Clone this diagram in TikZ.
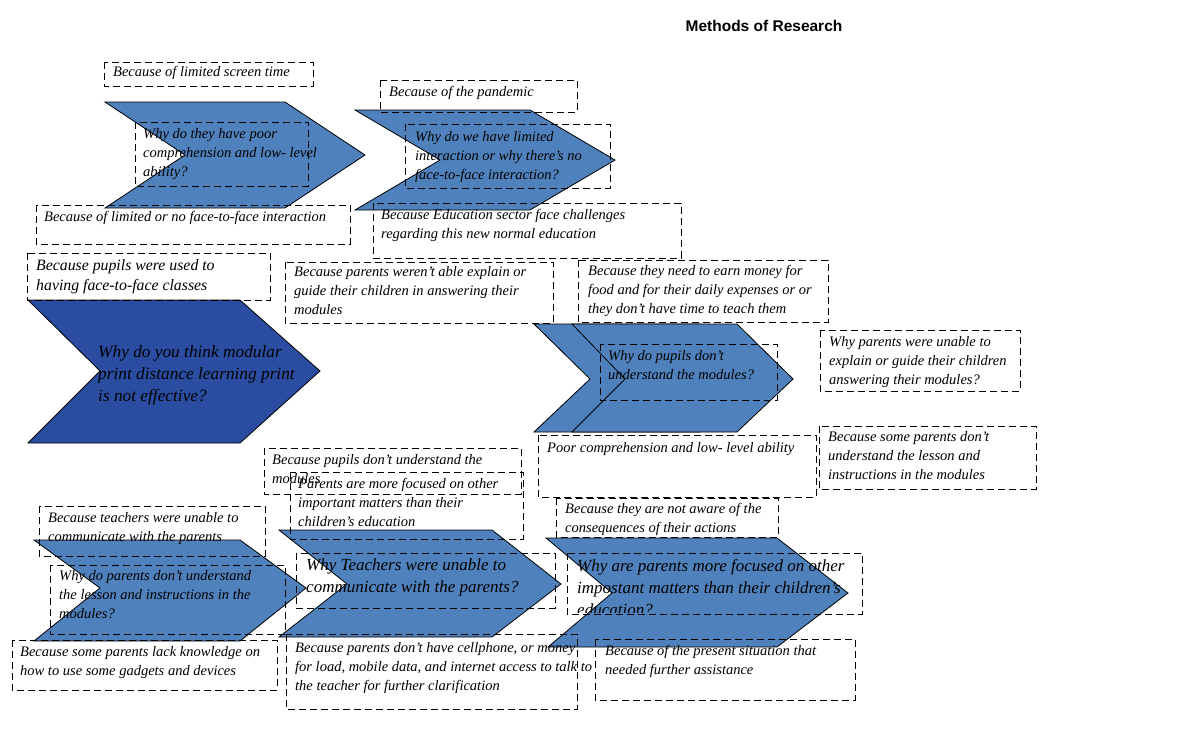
\documentclass[tikz,border=0pt]{standalone}
\usepackage{fontspec}
\setmainfont{Liberation Serif}
\newfontfamily\sans{Liberation Sans}
\begin{document}
\begin{tikzpicture}[x=1pt,y=-1pt,
  chev/.style={draw=black,line width=0.8pt,fill=cblue},
  dbox/.style={draw=black,dashed,dash pattern=on 7pt off 4pt,line width=1pt},
  txt/.style={anchor=north west,inner sep=0pt,align=left,font=\fontsize{14.5}{19}\selectfont\itshape},
  big/.style={anchor=north west,inner sep=0pt,align=left,font=\fontsize{17}{22}\selectfont\itshape}]
\definecolor{cblue}{HTML}{4F81BD}
\definecolor{dblue}{HTML}{2A4DA2}
\useasboundingbox (0,0) rectangle (1200,729);
\node[font=\sans\bfseries\fontsize{15.5}{17}\selectfont] (title) at (764,26) {Methods of Research};
% chevrons
\draw[chev] (105,102)--(285,102)--(365,155)--(285,208)--(105,208)--(185,155)--cycle;
\draw[chev] (355,110)--(530,110)--(615,160)--(530,210)--(355,210)--(440,160)--cycle;
\draw[chev,fill=dblue] (28,300)--(240,300)--(320,371)--(240,443)--(28,443)--(100,371)--cycle;
\draw[chev] (534,324)--(700,324)--(756,379)--(700,432)--(534,432)--(590,379)--cycle;
\draw[chev] (572,324)--(737,324)--(793,379)--(737,432)--(572,432)--(625,379)--cycle;
\draw[chev] (34,540)--(240,540)--(306,588)--(240,641)--(34,641)--(100,588)--cycle;
\draw[chev] (279,530)--(492,530)--(561,584)--(492,637)--(279,637)--(347,584)--cycle;
\draw[chev] (546,538)--(777,538)--(848,593)--(777,647)--(548,647)--(612,593)--cycle;
% boxes
\draw[dbox] (104,62) rectangle (313,86);
\node[txt] (t1) at (113,66) {Because of limited screen time};
\draw[dbox] (380,80) rectangle (577,112);
\node[txt] (t2) at (389,86) {Because of the pandemic};
\draw[dbox] (135,122) rectangle (308,186);
\node[txt] (t3) at (143,128) {Why do they have poor\\comprehension and low- level\\ability?};
\draw[dbox] (405,124) rectangle (610,188);
\node[txt] (t4) at (415,131) {Why do we have limited\\interaction or why there's no\\face-to-face interaction?};
\draw[dbox] (36,205) rectangle (350,244);
\node[txt] (t5) at (44,211) {Because of limited or no face-to-face interaction};
\draw[dbox] (373,203) rectangle (681,258);
\node[txt] (t6) at (381,209) {Because Education sector face challenges\\regarding this new normal education};
\draw[dbox] (27,253) rectangle (270,300);
\node[txt,font=\fontsize{15.8}{20}\selectfont\itshape] (t7) at (36,259) {Because pupils were used to\\having face-to-face classes};
\draw[dbox] (285,262) rectangle (553,323);
\node[txt] (t8) at (294,266) {Because parents weren't able explain or\\guide their children in answering their\\modules};
\draw[dbox] (578,260) rectangle (828,322);
\node[txt] (t9) at (588,265) {Because they need to earn money for\\food and for their daily expenses or or\\they don't have time to teach them};
\node[anchor=north west,inner sep=0pt,align=left,font=\fontsize{17.3}{22}\selectfont\itshape] (t10) at (98,345) {Why do you think modular\\print distance learning print\\is not effective?};
\draw[dbox] (600,344) rectangle (777,400);
\node[txt] (t11) at (608,350) {Why do pupils don't\\understand the modules?};
\draw[dbox] (820,330) rectangle (1020,391);
\node[txt] (t12) at (829,336) {Why parents were unable to\\explain or guide their children\\answering their modules?};
\draw[dbox] (538,435) rectangle (816,497);
\node[txt] (t13) at (547,442) {Poor comprehension and low- level ability};
\draw[dbox] (819,426) rectangle (1036,489);
\node[txt] (t14) at (828,431) {Because some parents don't\\understand the lesson and\\instructions in the modules};
\draw[dbox] (264,448) rectangle (521,494);
\node[txt] (t15) at (272,454) {Because pupils don't understand the\\modules};
\draw[dbox] (290,472) rectangle (523,539);
\node[txt] (t16) at (298,478) {Parents are more focused on other\\important matters than their\\children's education};
\draw[dbox] (39,506) rectangle (265,556);
\node[txt] (t17) at (48,512) {Because teachers were unable to\\communicate with the parents};
\draw[dbox] (50,565) rectangle (285,634);
\node[txt] (t18) at (59,570) {Why do parents don't understand\\the lesson and instructions in the\\modules?};
\draw[dbox] (296,553) rectangle (555,608);
\node[big] (t19) at (306,558) {Why Teachers were unable to\\communicate with the parents?};
\draw[dbox] (556,498) rectangle (778,537);
\node[txt] (t20) at (565,503) {Because they are not aware of the\\consequences of their actions};
\begin{scope}
\clip (560,550) rectangle (870,612);
\node[big] (t21) at (577,559) {Why are parents more focused on other\\impostant matters than their children's\\education?};
\end{scope}
\draw[dbox] (567,553) rectangle (862,614);
\draw[dbox] (12,640) rectangle (277,690);
\node[txt] (t22) at (20,646) {Because some parents lack knowledge on\\how to use some gadgets and devices};
\draw[dbox] (286,634) rectangle (577,709);
\node[txt] (t23) at (295,642) {Because parents don't have cellphone, or money\\for load, mobile data, and internet access to talk to\\the teacher for further clarification};
\draw[dbox] (595,639) rectangle (855,700);
\node[txt] (t24) at (605,645) {Because of the present situation that\\needed further assistance};
\end{tikzpicture}
\end{document}
